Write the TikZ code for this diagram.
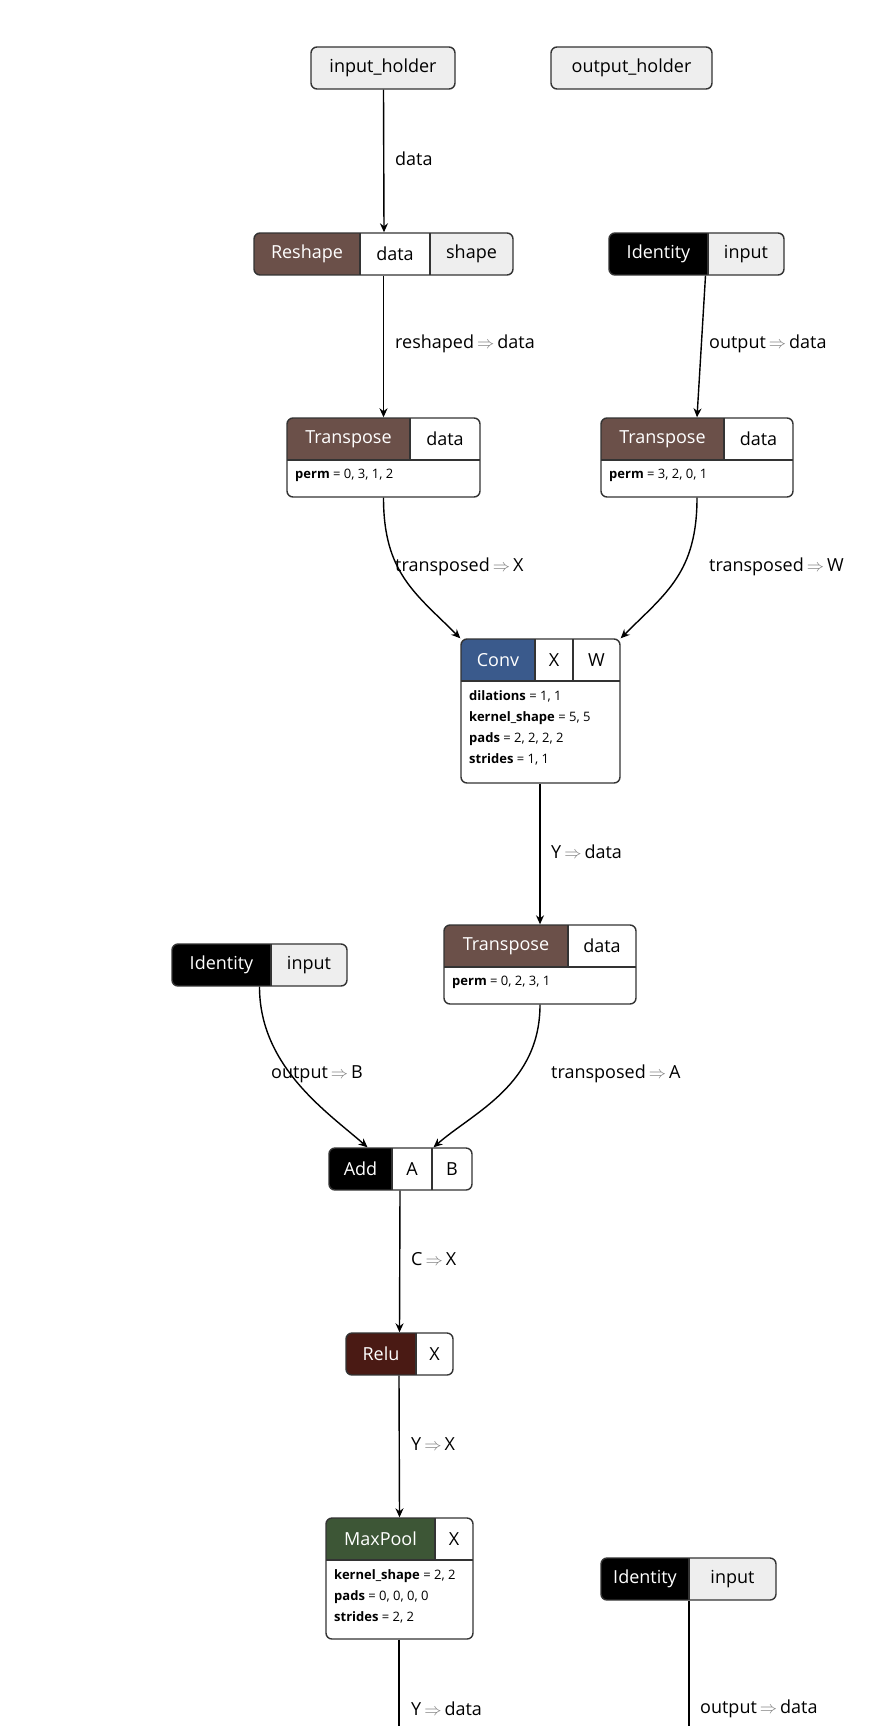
\documentclass[tikz,border=0pt]{standalone}
\usepackage{fontspec}
\setmainfont{Open Sans}
\usetikzlibrary{fit,arrows.meta}
\definecolor{opbrown}{HTML}{6B5049}
\definecolor{opblue}{HTML}{3A5A8C}
\definecolor{opred}{HTML}{4A1A14}
\definecolor{opgreen}{HTML}{3D5636}
\definecolor{unused}{HTML}{EEEEEE}
\definecolor{framec}{HTML}{333333}
\newcommand{\flowarrow}{\,\textcolor{gray}{$\Rightarrow$}\,}
\tikzset{
  frame/.style={draw=framec, line width=1.4pt, rounded corners=6pt, inner sep=0pt},
  head/.style={text=white, font=\fontsize{18}{20}\selectfont},
  port/.style={font=\fontsize{18}{20}\selectfont},
  attr/.style={anchor=north west, align=left, font=\fontsize{13}{21}\selectfont, inner sep=0pt},
  lbl/.style={anchor=west, font=\fontsize{18}{20}\selectfont, inner sep=0pt},
  sep/.style={draw=framec, line width=1.4pt},
  edge/.style={draw=black, line width=1.4pt, -{Stealth[length=9pt,width=8pt]}},
  line/.style={draw=black, line width=1.4pt},
}
\begin{document}
\begin{tikzpicture}[x=1pt,y=-1pt]
\useasboundingbox (0,0) rectangle (882,1726);

% input / output holders
\fill[unused, rounded corners=6pt] (311,47) rectangle (455,89);
\node[frame, fit={(311,47) (455,89)}] (inh) {};
\node[port] (inht) at (inh.center) {input\_holder};
\fill[unused, rounded corners=6pt] (551,47) rectangle (712,89);
\node[frame, fit={(551,47) (712,89)}] (outh) {};
\node[port] (outht) at (outh.center) {output\_holder};

% Reshape
\begin{scope}
\clip[rounded corners=6pt] (254,233) rectangle (513,275);
\fill[opbrown] (254,233) rectangle (360,275);
\fill[white] (360,233) rectangle (430,275);
\fill[unused] (430,233) rectangle (513,275);
\end{scope}
\node[frame, fit={(254,233) (513,275)}] (reshape) {};
\draw[sep] (360,233) -- (360,275) (430,233) -- (430,275);
\node[head] (reshapeh) at (307,254) {Reshape};
\node[port] (reshaped) at (395,254) {data};
\node[port] (reshapes) at (471.5,254) {shape};

% Identity 1
\begin{scope}
\clip[rounded corners=6pt] (609,233) rectangle (784,275);
\fill[black] (609,233) rectangle (708,275);
\fill[unused] (708,233) rectangle (784,275);
\end{scope}
\node[frame, fit={(609,233) (784,275)}] (id1) {};
\draw[sep] (708,233) -- (708,275);
\node[head] (id1h) at (658.5,254) {Identity};
\node[port] (id1i) at (746,254) {input};

% Transpose 1
\begin{scope}
\clip[rounded corners=6pt] (287,418) rectangle (480,497);
\fill[white] (287,418) rectangle (480,497);
\fill[opbrown] (287,418) rectangle (410,460);
\end{scope}
\node[frame, fit={(287,418) (480,497)}] (tr1) {};
\draw[sep] (410,418) -- (410,460) (287,460) -- (480,460);
\node[head] (tr1h) at (348.5,439) {Transpose};
\node[port] (tr1d) at (445,439) {data};
\node[attr] (tr1a) at (295,469) {\textbf{perm} = 0, 3, 1, 2};

% Transpose 2
\begin{scope}
\clip[rounded corners=6pt] (601,418) rectangle (793,497);
\fill[white] (601,418) rectangle (793,497);
\fill[opbrown] (601,418) rectangle (724,460);
\end{scope}
\node[frame, fit={(601,418) (793,497)}] (tr2) {};
\draw[sep] (724,418) -- (724,460) (601,460) -- (793,460);
\node[head] (tr2h) at (662.5,439) {Transpose};
\node[port] (tr2d) at (758.5,439) {data};
\node[attr] (tr2a) at (609,469) {\textbf{perm} = 3, 2, 0, 1};

% Conv
\begin{scope}
\clip[rounded corners=6pt] (461,639) rectangle (620,783);
\fill[white] (461,639) rectangle (620,783);
\fill[opblue] (461,639) rectangle (535,681);
\end{scope}
\node[frame, fit={(461,639) (620,783)}] (conv) {};
\draw[sep] (535,639) -- (535,681) (573,639) -- (573,681) (461,681) -- (620,681);
\node[head] (convh) at (498,660) {Conv};
\node[port] (convx) at (554,660) {X};
\node[port] (convw) at (596.5,660) {W};
\node[attr] (conva) at (469,690) {\textbf{dilations} = 1, 1\\\textbf{kernel\_shape} = 5, 5\\\textbf{pads} = 2, 2, 2, 2\\\textbf{strides} = 1, 1};

% Transpose 3
\begin{scope}
\clip[rounded corners=6pt] (444,925) rectangle (636,1004);
\fill[white] (444,925) rectangle (636,1004);
\fill[opbrown] (444,925) rectangle (568,967);
\end{scope}
\node[frame, fit={(444,925) (636,1004)}] (tr3) {};
\draw[sep] (568,925) -- (568,967) (444,967) -- (636,967);
\node[head] (tr3h) at (506,946) {Transpose};
\node[port] (tr3d) at (602,946) {data};
\node[attr] (tr3a) at (452,976) {\textbf{perm} = 0, 2, 3, 1};

% Identity 2
\begin{scope}
\clip[rounded corners=6pt] (172,944) rectangle (347,986);
\fill[black] (172,944) rectangle (271,986);
\fill[unused] (271,944) rectangle (347,986);
\end{scope}
\node[frame, fit={(172,944) (347,986)}] (id2) {};
\draw[sep] (271,944) -- (271,986);
\node[head] (id2h) at (221.5,965) {Identity};
\node[port] (id2i) at (309,965) {input};

% Add
\begin{scope}
\clip[rounded corners=6pt] (329,1148) rectangle (472,1190);
\fill[white] (329,1148) rectangle (472,1190);
\fill[black] (329,1148) rectangle (392,1190);
\end{scope}
\node[frame, fit={(329,1148) (472,1190)}] (add) {};
\draw[sep] (392,1148) -- (392,1190) (432,1148) -- (432,1190);
\node[head] (addh) at (360.5,1169) {Add};
\node[port] (adda) at (412,1169) {A};
\node[port] (addb) at (452,1169) {B};

% Relu
\begin{scope}
\clip[rounded corners=6pt] (346,1333) rectangle (453,1375);
\fill[white] (346,1333) rectangle (453,1375);
\fill[opred] (346,1333) rectangle (416,1375);
\end{scope}
\node[frame, fit={(346,1333) (453,1375)}] (relu) {};
\draw[sep] (416,1333) -- (416,1375);
\node[head] (reluh) at (381,1354) {Relu};
\node[port] (relux) at (434.5,1354) {X};

% MaxPool
\begin{scope}
\clip[rounded corners=6pt] (326,1518) rectangle (473,1639);
\fill[white] (326,1518) rectangle (473,1639);
\fill[opgreen] (326,1518) rectangle (435,1560);
\end{scope}
\node[frame, fit={(326,1518) (473,1639)}] (pool) {};
\draw[sep] (435,1518) -- (435,1560) (326,1560) -- (473,1560);
\node[head] (poolh) at (380.5,1539) {MaxPool};
\node[port] (poolx) at (454,1539) {X};
\node[attr] (poola) at (334,1569) {\textbf{kernel\_shape} = 2, 2\\\textbf{pads} = 0, 0, 0, 0\\\textbf{strides} = 2, 2};

% Identity 3
\begin{scope}
\clip[rounded corners=6pt] (601,1558) rectangle (776,1600);
\fill[black] (601,1558) rectangle (689,1600);
\fill[unused] (689,1558) rectangle (776,1600);
\end{scope}
\node[frame, fit={(601,1558) (776,1600)}] (id3) {};
\draw[sep] (689,1558) -- (689,1600);
\node[head] (id3h) at (645,1579) {Identity};
\node[port] (id3i) at (732.5,1579) {input};

% connectors
\coordinate (end1) at (399,1726);
\coordinate (end2) at (689,1726);
\draw[edge] ([xshift=0.5pt]inh.south) -- ([xshift=0.5pt]reshape.north);
\draw[edge] (reshape.south) -- (tr1.north);
\draw[edge] ([xshift=9pt]id1.south) -- ([xshift=0pt]tr2.north);
\draw[edge] (tr1.south) .. controls +(0,75) and +(-45,-45) .. (conv.north west);
\draw[edge] (tr2.south) .. controls +(0,75) and +(45,-45) .. (conv.north east);
\draw[edge] ([xshift=-0.5pt]conv.south) -- (tr3.north);
\draw[edge] (id2.south) .. controls +(0,80) and +(-40,-35) .. ([xshift=-33pt]add.north);
\draw[edge] (tr3.south) .. controls +(0,80) and +(40,-35) .. ([xshift=33pt]add.north);
\draw[edge] ([xshift=-0.5pt]add.south) -- ([xshift=0pt]relu.north);
\draw[edge] ([xshift=-0.5pt]relu.south) -- ([xshift=0pt]pool.north);
\draw[line] ([xshift=-0.5pt]pool.south) -- (end1);
\draw[line] ([xshift=0pt]id3.south west -| end2) -- (end2);

% connector labels
\node[lbl] (l1) at (395,159) {data};
\node[lbl] (l2) at (395,344) {reshaped\flowarrow data};
\node[lbl] (l3) at (709,344) {output\flowarrow data};
\node[lbl] (l4) at (395,567) {transposed\flowarrow X};
\node[lbl] (l5) at (709,567) {transposed\flowarrow W};
\node[lbl] (l6) at (551,852) {Y\flowarrow data};
\node[lbl] (l7) at (271,1074) {output\flowarrow B};
\node[lbl] (l8) at (551,1074) {transposed\flowarrow A};
\node[lbl] (l9) at (411,1259) {C\flowarrow X};
\node[lbl] (l10) at (411,1444) {Y\flowarrow X};
\node[lbl] (l11) at (411,1709) {Y\flowarrow data};
\node[lbl] (l12) at (700,1709) {output\flowarrow data};
\end{tikzpicture}
\end{document}
